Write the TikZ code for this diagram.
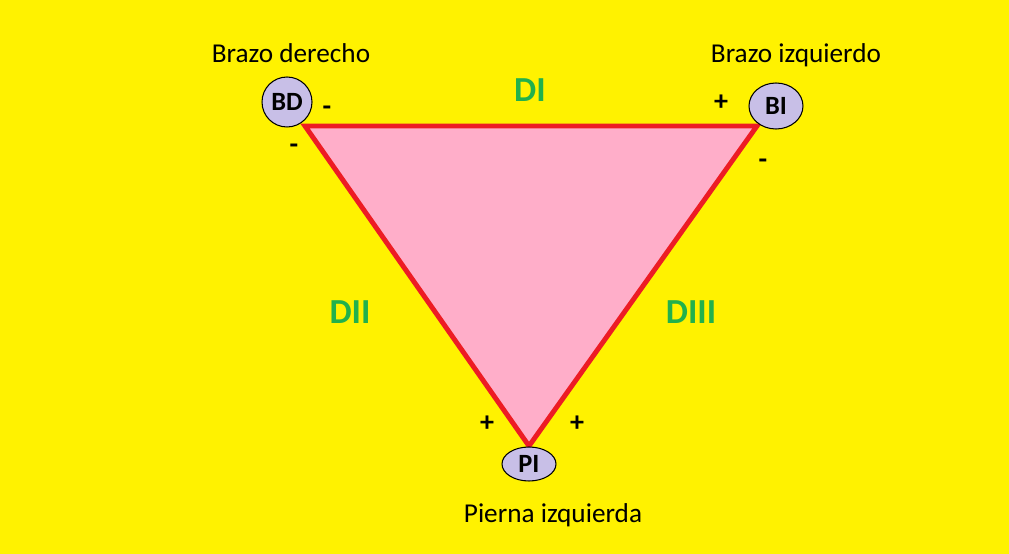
\documentclass[tikz,border=0pt]{standalone}
\usepackage{fontspec}
\setmainfont{Carlito}
\usepackage{xcolor}
\usetikzlibrary{positioning,shapes}

\definecolor{fondo}{RGB}{255,242,0}
\definecolor{rojo}{RGB}{237,28,36}
\definecolor{rosa}{RGB}{255,174,201}
\definecolor{lila}{RGB}{200,191,231}
\definecolor{verde}{RGB}{34,177,76}

\tikzset{
  electrodo/.style={draw,ellipse,fill=lila,line width=0.6pt,inner sep=0pt,font=\fontsize{15}{17}\selectfont\bfseries},
  nombre/.style={font=\fontsize{15.5}{18}\selectfont},
  deriv/.style={text=verde,font=\fontsize{20}{23}\selectfont\bfseries},
  signo/.style={font=\fontsize{16}{18}\selectfont\bfseries}
}

\begin{document}
\begin{tikzpicture}[x=0.02cm,y=-0.02cm]
            \fill[fondo] (0,0) rectangle (1009,554);
            \useasboundingbox (0,0) rectangle (1009,554);
            \coordinate (vbd) at (305,126);
            \coordinate (vbi) at (757,126);
            \coordinate (vpi) at (529,446);
            \filldraw[fill=rosa,draw=rojo,line width=2.8pt,line join=miter] (vbd) -- (vbi) -- (vpi) -- cycle;
            \node[electrodo,minimum width=1cm,minimum height=1cm] (bd) at (287,102) {BD};
            \node[electrodo,minimum width=1.08cm,minimum height=0.92cm] (bi) at (776,106) {BI};
            \node[electrodo,minimum width=1.08cm,minimum height=0.68cm] (pi) at (529,464) {PI};
            \node[nombre] (nbd) at (291,53) {Brazo derecho};
            \node[nombre] (nbi) at (796,55) {Brazo izquierdo};
            \node[nombre] (npi) at (553,515) {Pierna izquierda};
            \node[deriv] (d1) at (530,90) {DI};
            \node[deriv] (d2) at (350,312) {DII};
            \node[deriv] (d3) at (691,312) {DIII};
            \node[signo] (s1) at (327,111) {-};
            \node[signo] (s2) at (294,149) {-};
            \node[signo] (s3) at (721,103) {+};
            \node[signo] (s4) at (763,164) {-};
            \node[signo] (s5) at (487,424) {+};
            \node[signo] (s6) at (577,424) {+};
        \end{tikzpicture}
\end{document}
